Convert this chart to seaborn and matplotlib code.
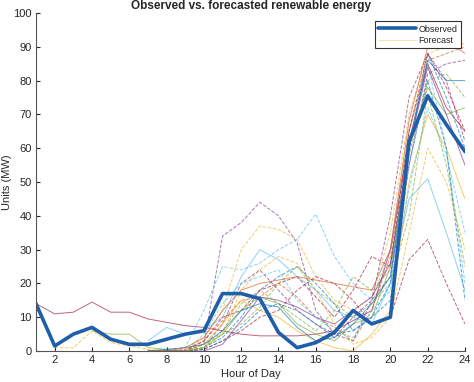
import numpy as np
import pandas as pd
import matplotlib
matplotlib.use("Agg")
import matplotlib.pyplot as plt
import seaborn as sns

hours = list(range(1, 25))
observed = [14, 1.5, 5, 7, 3.5, 2, 2, 3.5, 5, 6, 17, 17, 15.5, 5.5, 1, 2.5, 5.5, 12, 8, 10, 62, 75.5, 67, 59]

N = None
forecasts = [
    [14, 11, 11.5, 14.5, 11.5, 11.5, 9.5, 8.5, 7.5, 7, 6, 5, 4.5, 4.5, 4.5, 5, 6, 9, 12, 30, 62, 85, 72, 65],
    [N, 1, 1, 6, 2.5, 1.5, 0.5, 0, 0, 4, 12, 30, 37, 36, 33, 22, 15, 12, 16, 35, 70, 88, 90, 91],
    [N, N, N, 6, 5, 5, 1, 0.5, 0, 1, 5, 12, 16, 14, 8, 5, 3, 8, 10, 25, 60, 78, 70, 72],
    [N, N, N, N, N, N, 0, 0, 0, 2, 34, 38, 44, 40, 32, 12, 5, 3, 15, 40, 75, 88, 80, 62],
    [N, N, N, N, N, N, 0, 0.5, 1, 12, 25, 24, 26, 30, 33, 40.5, 28, 20, 15, 30, 65, 85, 60, 20],
    [N, N, N, N, N, N, 3, 7, 5, 6, 10, 22, 30, 27, 22, 18, 12, 10, 8, 20, 45, 51, 35, 18],
    [N, N, N, N, N, N, 0, 0, 0, 1, 8, 20, 24, 18, 12, 8, 4, 10, 15, 22, 55, 82, 85, 86],
    [N, N, N, N, N, N, 0, 0, 0, 1, 4, 10, 18, 22, 25, 20, 14, 6, 10, 20, 60, 88, 75, 60],
    [N, N, N, N, N, N, 0, 0, 0.5, 3, 9, 15, 16, 20, 16, 10, 7, 3, 12, 28, 65, 86, 88, 90],
    [N, N, N, N, N, N, 0, 0, 0, 0.5, 3, 6, 10, 12, 18, 22, 20, 15, 8, 10, 27, 33, 20, 8],
    [N, N, N, N, N, N, 0, 0, 0, 1, 6, 14, 18, 14, 10, 6, 12, 22, 18, 24, 58, 80, 82, 75],
    [N, N, N, N, N, N, 0, 0, 0, 2, 8, 15, 12, 10, 6, 3, 1, 0, 5, 12, 50, 70, 60, 45],
    [N, N, N, N, N, N, 0, 0, 0, 0, 2, 9, 16, 15, 13, 10, 8, 12, 16, 26, 60, 84, 70, 55],
    [N, N, N, N, N, N, 0, 0, 0, 5, 14, 20, 22, 24, 15, 10, 6, 4, 12, 18, 48, 72, 58, 35],
    [N, N, N, N, N, N, 0, 0.5, 1, 2, 6, 12, 14, 13, 7, 3, 4, 8, 14, 22, 60, 86, 80, 80],
    [N, N, N, N, N, N, 0, 0, 0, 3, 10, 12, 18, 20, 22, 16, 10, 18, 28, 25, 65, 88, 78, 65],
    [N, N, N, N, N, N, 0, 0, 1, 4, 12, 18, 20, 21, 22, 21, 20, 19, 18, 30, 68, 90, 92, 88],
    [N, N, N, N, N, N, 0, 0, 0, 2, 5, 8, 13, 20, 25, 18, 14, 10, 14, 20, 40, 76, 55, 25],
    [N, N, N, N, N, N, 0, 0, 0, 0.5, 3, 7, 12, 14, 12, 8, 5, 6, 10, 15, 55, 80, 60, 15],
    [N, N, N, N, N, N, 0, 0, 0, 1, 5, 18, 24, 28, 26, 18, 8, 2, 4, 10, 35, 60, 50, 30],
]

matlab_colors = ["#A2142F", "#EDB120", "#77AC30", "#7E2F8E", "#4DBEEE", "#4DBEEE",
                 "#7E2F8E", "#0072BD", "#D95319", "#A2142F", "#77AC30", "#EDB120",
                 "#7E2F8E", "#4DBEEE", "#0072BD", "#A2142F", "#D95319", "#77AC30",
                 "#0072BD", "#EDB120"]
styles = ["-", "--", "-", "--", "--", "-", "--", "--", "--", "--", "--", "-",
          "-", "--", "-", "--", "-", "--", "--", "--"]

sns.set_theme(style="ticks")
plt.rcParams['font.family'] = ['Liberation Sans', 'DejaVu Sans']

fig = plt.figure(figsize=(4.74, 3.82), dpi=100)
ax = fig.add_axes([0.076, 0.081, 0.905, 0.885])

for i, vals in enumerate(forecasts):
    y = [np.nan if v is None else v for v in vals]
    sns.lineplot(x=hours, y=y, ax=ax, color=matlab_colors[i], linestyle=styles[i],
                 linewidth=0.7, alpha=0.65, legend=False)

sns.lineplot(x=hours, y=observed, ax=ax, color="#1F5FAA", linewidth=2.6, legend=False)

from matplotlib.lines import Line2D
handles = [Line2D([0], [0], color="#1F5FAA", linewidth=2.6),
           Line2D([0], [0], color="#F3E3B0", linewidth=0.8)]
leg = ax.legend(handles, ["Observed", "Forecast"], loc="upper right",
                bbox_to_anchor=(0.99, 0.975), fontsize=6.5, frameon=True,
                fancybox=False, handlelength=4.2, borderpad=0.35, labelspacing=0.25,
                handletextpad=0.3, borderaxespad=0)
leg.get_frame().set_edgecolor("#333333")
leg.get_frame().set_linewidth(0.8)
leg.get_frame().set_alpha(1)

ax.set_xlim(1, 24)
ax.set_ylim(0, 100)
ax.set_xticks(list(range(2, 25, 2)))
ax.set_yticks(list(range(0, 101, 10)))
ax.tick_params(direction="in", length=3, width=0.8, labelsize=8, colors="#262626", pad=3)
for s in ["top", "right"]:
    ax.spines[s].set_visible(False)
for s in ["left", "bottom"]:
    ax.spines[s].set_color("#555555")
    ax.spines[s].set_linewidth(0.8)

ax.set_xlabel("Hour of Day", fontsize=8, color="#262626", labelpad=3)
ax.set_ylabel("Units (MW)", fontsize=8, color="#262626", labelpad=1)
ax.set_title("Observed vs. forecasted renewable energy", fontsize=8.5,
             fontweight="bold", pad=3)

fig.savefig("out.png", dpi=100)
